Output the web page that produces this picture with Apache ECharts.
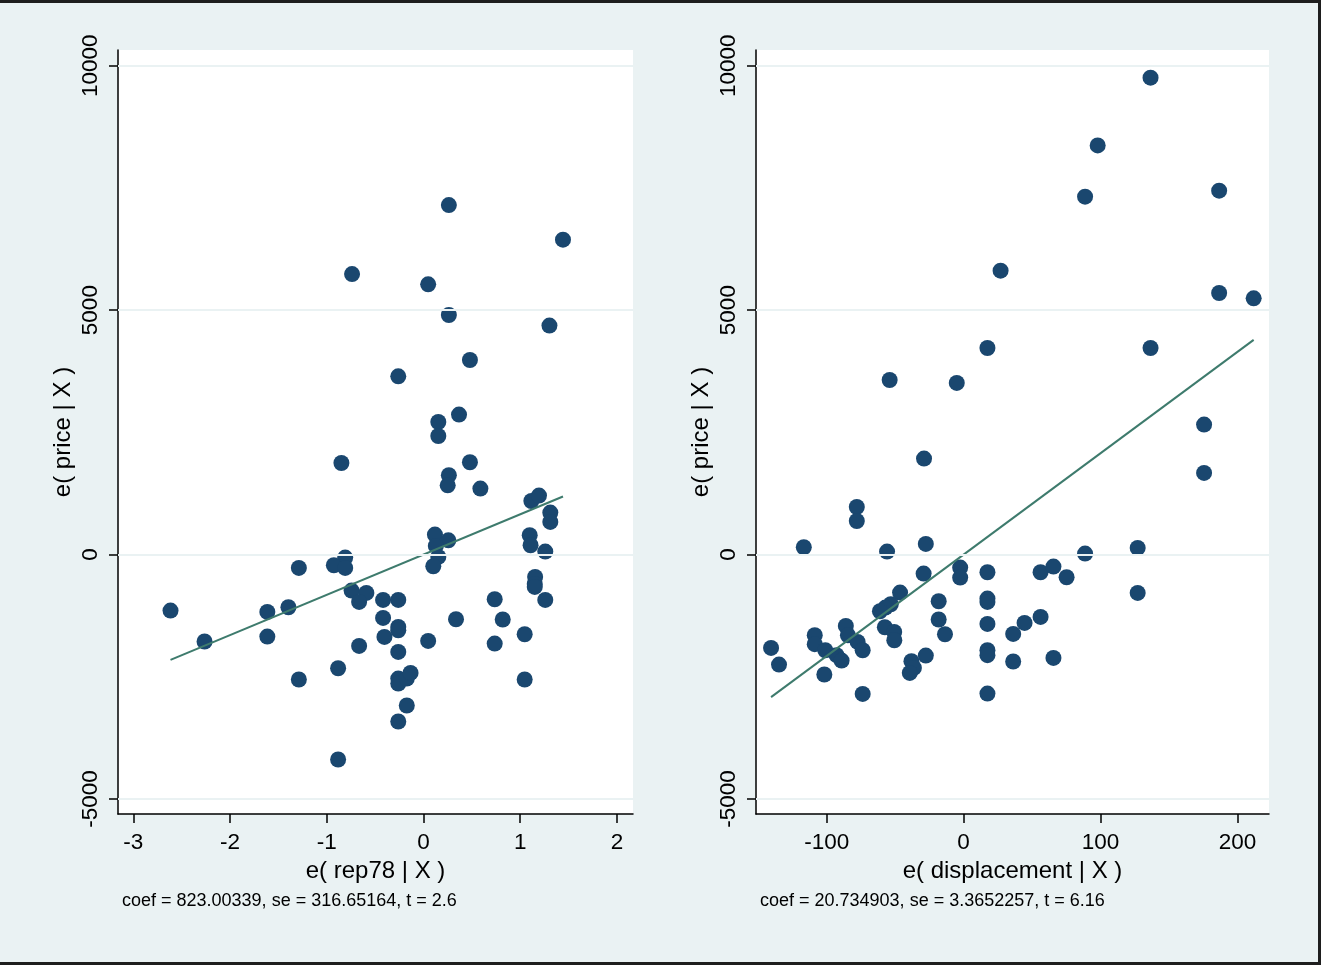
<!DOCTYPE html>
<html>
<head>
<meta charset="utf-8">
<script src="https://cdn.jsdelivr.net/npm/echarts/dist/echarts.min.js"></script>
<style>
html,body{margin:0;padding:0;background:#eaf2f3;}
#c{width:1321px;height:965px;}
</style>
</head>
<body>
<div id="c"></div>
<script>
// ---- data ----
const leftX = [0.262,1.442,-0.739,0.048,0.262,1.302,0.480,-0.261,0.367,0.153,0.153,-0.849,0.480,0.262,0.25,0.588,1.115,1.194,1.311,1.311,0.118,0.257,0.127,0.153,0.101,1.098,1.107,1.259,1.154,1.15,1.150,1.259,-0.810,-0.927,-0.810,-1.289,-0.744,-0.591,-0.666,-0.418,-0.261,-0.418,-0.261,-0.261,-0.404,-0.261,-0.666,-0.883,-1.289,-0.261,-0.261,-0.173,-0.134,-0.173,-0.261,-0.883,-2.616,-2.264,-1.615,-1.615,-1.397,0.048,0.336,0.736,0.819,0.736,1.046,1.046];
const leftY = [7149,6442,5738,5528,4900,4683,3980,3646,2863,2712,2425,1873,1888,1622,1417,1350,1096,1206,859,667,409,292,176,-49,-239,395,190,61,-458,-600,-662,-928,-61,-219,-274,-274,-736,-785,-969,-928,-928,-1297,-1481,-1548,-1685,-1992,-1869,-2325,-2556,-2536,-2638,-2536,-2421,-3088,-3415,-4192,-1145,-1779,-1174,-1677,-1078,-1767,-1323,-914,-1329,-1820,-1630,-2556];
const rightX = [136.5,97.9,88.7,186.6,27.0,186.6,211.8,17.4,136.5,-54.0,-5.0,-28.9,175.6,175.6,-78.0,-78.0,-116.7,-55.9,-27.6,88.7,127.1,127.1,-29.2,-2.5,-2.5,17.4,56.2,65.6,75.2,-46.4,-53.2,-57.1,-61.1,-18.2,-18.2,-13.6,17.4,17.4,17.4,17.4,17.4,17.4,56.2,44.5,36.2,36.2,65.6,-57.5,-50.7,-50.6,-27.6,-38.1,-36.3,-39.3,-73.7,-86.0,-84.5,-77.4,-73.7,-108.7,-108.7,-101.0,-92.8,-89.1,-101.7,-140.6,-134.8];
const rightY = [9755,8370,7321,7444,5808,5350,5241,4225,4225,3571,3510,1963,2658,1669,973,687,149,61,217,20,135,-785,-389,-266,-470,-362,-362,-245,-464,-777,-1016,-1084,-1160,-955,-1329,-1630,-900,-969,-1419,-1957,-2059,-2843,-1276,-1399,-1624,-2188,-2115,-1487,-1583,-1753,-2066,-2182,-2319,-2421,-2851,-1460,-1650,-1787,-1957,-1650,-1834,-1957,-2059,-2168,-2454,-1910,-2250];
const leftCoef = 823.00339;
const rightCoef = 20.734903;
const yTicks = [-5000, 0, 5000, 10000];
const leftXTicks = [-3, -2, -1, 0, 1, 2];
const rightXTicks = [-100, 0, 100, 200];
const leftXTitle = 'e( rep78 | X )';
const rightXTitle = 'e( displacement | X )';
const yTitle = 'e( price | X )';
const leftNote = 'coef = 823.00339, se = 316.65164, t = 2.6';
const rightNote = 'coef = 20.734903, se = 3.3652257, t = 6.16';

// ---- styling ----
const FONT = 'Liberation Sans, Arial, Helvetica, sans-serif';
const NAVY = '#1a476f';
const FIT = '#3e7b6d';
const GRIDC = '#eaf2f3';

function zip(a, b){ return a.map((v,i)=>[v, b[i]]); }
function fitLine(xs, coef){
  const mn = Math.min(...xs), mx = Math.max(...xs);
  return [[mn, mn*coef],[mx, mx*coef]];
}
const plain = v => String(v);

function xAxis(gi, min, max, ticks, title){
  return {
    type:'value', gridIndex:gi, min:min, max:max,
    name:title, nameLocation:'middle', nameGap:44,
    nameTextStyle:{fontFamily:FONT, fontSize:24, color:'#000'},
    axisLine:{show:true, onZero:false, lineStyle:{color:'#000', width:1.5}},
    axisTick:{show:true, length:9, lineStyle:{color:'#000', width:1.5}, customValues:ticks},
    axisLabel:{fontFamily:FONT, fontSize:22.5, color:'#000', margin:17, customValues:ticks, formatter:plain},
    splitLine:{show:false}
  };
}
function yAxis(gi){
  return {
    type:'value', gridIndex:gi, min:-5307, max:10321,
    name:yTitle, nameLocation:'middle', nameGap:43,
    nameTextStyle:{fontFamily:FONT, fontSize:24, color:'#000'},
    axisLine:{show:true, onZero:false, lineStyle:{color:'#000', width:1.5}},
    axisTick:{show:true, length:9, lineStyle:{color:'#000', width:1.5}, customValues:yTicks},
    axisLabel:{fontFamily:FONT, fontSize:22.5, color:'#000', margin:16, rotate:90, customValues:yTicks, formatter:plain},
    splitLine:{show:false}
  };
}
function gridLines(gi){
  return {
    type:'line', xAxisIndex:gi, yAxisIndex:gi, data:[], z:1, silent:true,
    markLine:{silent:true, symbol:['none','none'], label:{show:false},
      lineStyle:{color:GRIDC, width:2, type:'solid'},
      data: yTicks.map(v=>({yAxis:v}))}
  };
}

const chart = echarts.init(document.getElementById('c'), null, {renderer:'canvas'});
chart.setOption({
  animation:false,
  backgroundColor:'#eaf2f3',
  grid:[
    {left:118, top:50, width:515, height:764, show:true, backgroundColor:'#ffffff', borderWidth:0},
    {left:756, top:50, width:513, height:764, show:true, backgroundColor:'#ffffff', borderWidth:0}
  ],
  xAxis:[ xAxis(0, -3.159, 2.166, leftXTicks, leftXTitle), xAxis(1, -151.6, 223, rightXTicks, rightXTitle) ],
  yAxis:[ yAxis(0), yAxis(1) ],
  series:[
    gridLines(0), gridLines(1),
    {type:'scatter', xAxisIndex:0, yAxisIndex:0, data:zip(leftX, leftY), symbolSize:16, z:2,
      itemStyle:{color:NAVY, opacity:1}},
    {type:'scatter', xAxisIndex:1, yAxisIndex:1, data:zip(rightX, rightY), symbolSize:16, z:2,
      itemStyle:{color:NAVY, opacity:1}},
    {type:'line', xAxisIndex:0, yAxisIndex:0, data:fitLine(leftX, leftCoef), symbol:'none', z:3,
      lineStyle:{color:FIT, width:2}},
    {type:'line', xAxisIndex:1, yAxisIndex:1, data:fitLine(rightX, rightCoef), symbol:'none', z:3,
      lineStyle:{color:FIT, width:2}}
  ],
  graphic:[
    {type:'text', left:122, top:892, style:{text:leftNote, font:'18px '+FONT, fill:'#000'}},
    {type:'text', left:760, top:892, style:{text:rightNote, font:'18px '+FONT, fill:'#000'}},
    {type:'rect', shape:{x:0, y:0, width:1321, height:3}, style:{fill:'#1e1e1e'}},
    {type:'rect', shape:{x:1318, y:0, width:3, height:965}, style:{fill:'#1e1e1e'}},
    {type:'rect', shape:{x:0, y:962, width:1321, height:3}, style:{fill:'#1e1e1e'}}
  ]
});
</script>
</body>
</html>
